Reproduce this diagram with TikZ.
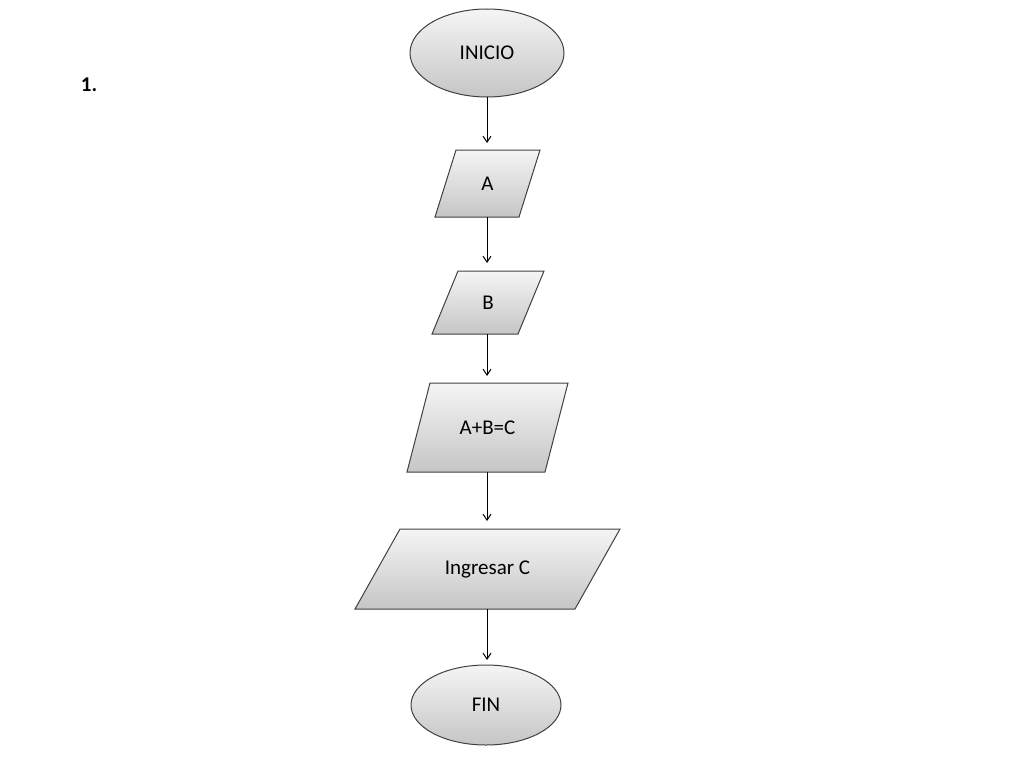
\documentclass[tikz,border=0pt]{standalone}
\usepackage{fontspec}
\setmainfont{Carlito}
\usetikzlibrary{shapes.geometric,arrows.meta}
\begin{document}
\begin{tikzpicture}[x=1pt,y=-1pt,
 shade/.style={top color=gray!8,bottom color=gray!45,draw=black!75,line width=1pt},
 term/.style={ellipse,shade,font=\fontsize{21}{24}\selectfont,inner sep=0},
 lbl/.style={font=\fontsize{21}{24}\selectfont,inner sep=0},
 conn/.style={-{Straight Barb[length=6pt,width=8pt]},line width=1pt}]
\useasboundingbox (0,0) rectangle (1024,768);
\node[font=\fontsize{21}{24}\selectfont\bfseries] (n1) at (89,85) {1.};
\node[term,minimum width=154,minimum height=88] (ini) at (487,53) {INICIO};
\node[term,minimum width=150,minimum height=80] (fin) at (486,705) {FIN};
\newcommand{\para}[6]{%
 \path[shade] (#2,#4) -- (#3,#4) -- (#3-#6,#5) -- (#2-#6,#5) -- cycle;
 \node[lbl,minimum height={#5-#4}] (#1) at ({(#2+#3-#6)/2},{(#4+#5)/2}) {};}
\para{a}{456}{540}{150}{217}{21}
\para{b}{458}{544}{271}{334}{26}
\para{c}{430}{568}{383}{472}{23}
\para{d}{400}{620}{529}{609}{45}
\node[lbl] at (a) {A};
\node[lbl] at (b) {B};
\node[lbl] at (c) {A+B=C};
\node[lbl] at (d) {Ingresar C};
\draw[conn] (487,97) -- (487,143);
\draw[conn] (a.south -| 487,0) -- (487,263);
\draw[conn] (b.south -| 487,0) -- (487,376);
\draw[conn] (c.south -| 487,0) -- (487,521);
\draw[conn] (d.south -| 487,0) -- (487,660);
\end{tikzpicture}
\end{document}
